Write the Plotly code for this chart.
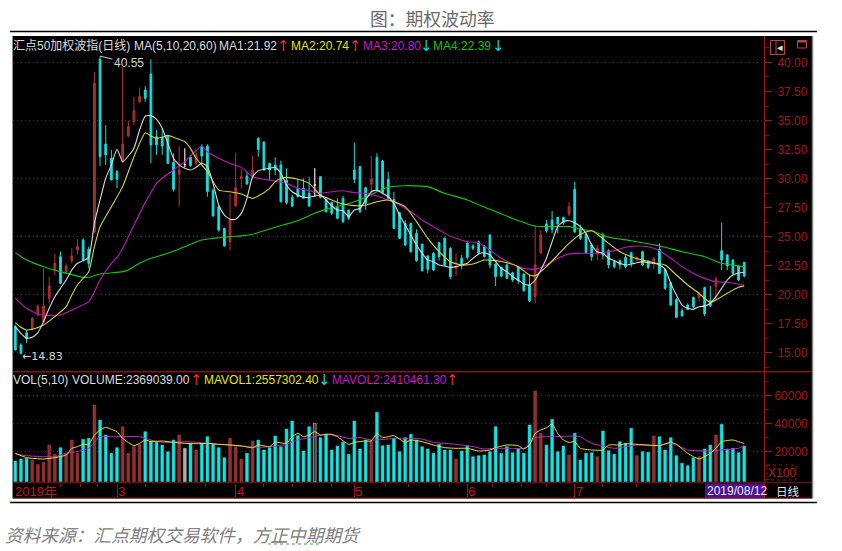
import plotly.graph_objects as go

W, H = 842, 551

# ---- daily candles
opens = [17.23,15.65,16.7,16.99,18.38,17.66,19.67,22.11,23.26,21.97,22.92,23.84,24.7,23.9,25.42,40.27,32.97,31.74,30.59,31.45,
 33.67,34.9,36.62,37.63,39.01,33.61,33.55,33.67,31.37,30.39,31.2,31.83,31.31,32.74,32.8,28.95,27.57,25.7,24.55,27.63,
 29.99,30.21,30.21,33.46,33.15,31.3,31.16,31.16,29.87,28.38,29.15,29.15,28.72,29.44,30.16,28.2,27.92,27.51,28.29,27.27,
 30.73,31.02,29.2,29.5,31.82,31.5,29.93,28.2,27.05,26.13,26.13,25.27,24.35,23.32,23.55,24.47,24.84,23.98,22.26,23.12,
 24.41,24.18,24.55,24.18,25.13,22.63,22.34,22.54,21.88,22.4,21.77,20.82,19.81,23.6,26.08,26.42,26.65,26.65,26.94,29.07,
 25.7,25.2,24.27,23.49,25.13,23.78,22.83,22.92,23.2,23.6,22.97,23.69,22.83,22.63,23.89,22.17,21.02,19.58,18.6,19.09,
 19.75,19.75,20.59,19.47,20.73,23.78,23.4,22.97,22.46,22.77]
highs = [17.4,15.8,16.94,18.05,19.15,22.26,21.54,23.49,23.69,22.69,23.98,24.76,24.84,24.13,39.2,40.55,34.6,32.46,30.73,39.6,
 34.99,37.05,37.83,37.98,40.27,34.18,34.32,33.75,32.17,32.8,32.6,32.03,32.46,32.95,32.95,29.15,27.63,25.75,28.66,32.23,
 30.79,30.59,31.94,33.55,33.18,31.36,31.82,31.54,30.88,28.58,29.93,30.0,30.16,30.88,30.21,28.29,28.0,28.29,28.49,27.3,
 33.09,31.08,29.3,31.94,32.17,31.6,30.59,28.86,27.14,26.42,26.19,25.62,24.36,23.4,23.69,24.55,24.98,24.07,23.55,23.4,
 24.64,24.35,24.64,24.27,25.18,22.68,22.4,22.68,21.97,22.46,21.82,21.68,25.93,25.56,26.42,27.2,26.71,26.71,28.0,29.73,
 26.0,25.2,24.41,24.27,25.33,23.89,22.97,23.03,23.4,23.69,23.32,23.78,22.97,23.2,24.41,22.25,21.1,19.67,18.81,19.24,
 19.81,20.24,20.68,20.73,21.54,26.19,23.49,23.03,22.54,22.83]
lows = [15.2,14.83,15.8,16.95,18.09,17.5,19.24,21.68,20.9,21.77,22.69,23.49,22.83,22.26,25.27,31.08,31.16,29.87,29.15,31.36,
 33.55,34.6,36.54,36.62,31.31,32.03,32.03,31.25,28.87,27.57,30.96,31.02,31.16,31.31,28.43,26.71,25.42,24.15,23.78,27.6,
 29.15,29.44,30.16,31.88,30.67,29.87,30.3,27.92,27.8,27.52,28.43,28.29,27.57,28.43,28.29,27.05,26.85,26.48,26.14,26.42,
 29.6,27.05,27.3,28.43,28.95,28.66,28.29,25.62,24.76,24.18,23.6,22.83,21.97,21.82,22.05,22.92,22.46,21.31,21.6,22.17,
 23.03,23.84,23.49,23.2,22.26,20.73,21.48,21.31,21.1,20.9,20.24,19.35,19.24,23.49,25.33,25.27,25.27,26.0,26.77,25.3,
 24.7,23.55,22.9,22.97,23.03,22.25,22.25,22.17,22.25,22.34,22.9,22.46,22.17,22.17,21.77,20.39,19.0,17.95,18.14,18.66,
 18.81,19.38,18.14,18.95,19.53,22.11,22.11,21.68,21.16,21.48]
closes = [15.22,14.93,16.22,17.95,18.95,19.01,20.73,22.69,20.96,22.46,23.32,24.13,22.98,22.69,38.2,31.88,32.03,29.87,29.93,32.95,
 34.47,35.85,37.05,36.91,32.89,32.89,32.8,31.31,29.07,30.73,31.2,31.11,32.03,31.94,28.87,26.77,25.56,24.18,26.42,29.21,
 30.16,29.53,30.73,32.51,30.73,30.73,30.73,28.0,27.92,27.63,28.43,28.29,27.63,29.44,28.38,27.14,27.0,26.57,26.28,26.57,
 29.93,27.14,27.86,29.93,29.0,28.78,28.29,25.7,24.84,24.27,23.69,22.92,22.05,22.17,22.11,23.26,22.54,21.54,22.4,22.63,
 23.2,23.98,23.6,23.26,22.54,21.54,21.59,21.39,21.25,21.19,20.33,19.47,22.54,25.13,25.5,25.62,26.08,26.19,27.57,25.4,
 24.84,23.6,23.26,23.98,23.4,22.54,22.4,22.54,22.4,22.69,23.17,22.54,22.34,23.12,21.82,20.53,19.09,18.03,18.14,18.72,
 18.95,20.1,18.32,19.0,21.31,22.97,22.46,21.82,21.25,21.6]
doji_days = [30, 53]

# ---- price moving averages (index, value)
ma1_x = list(range(130))
ma1_y = [17.23,16.65,16.22,16.31,16.71,17.66,18.81,19.81,20.53,21.25,22.11,22.69,22.92,23.2,26.14,28.15,30.02,31.17,32.52,31.45,
 31.94,32.6,34.18,35.39,35.42,35.1,34.33,33.03,31.74,31.17,30.88,30.73,30.96,31.31,31.02,29.58,27.71,26.85,26.48,26.48,
 26.99,28.29,30.16,30.68,30.79,30.88,30.96,30.45,29.44,28.86,28.58,28.38,28.38,28.49,28.58,28.15,27.63,27.29,27.23,26.71,
 27.29,27.43,28.15,28.86,29.0,28.72,28.43,27.86,26.85,25.99,25.13,24.27,23.55,22.97,22.83,22.54,22.46,22.34,22.4,22.54,
 22.69,23.12,23.49,23.6,23.4,22.83,22.26,21.97,21.54,21.25,20.9,20.82,21.25,22.11,23.12,24.55,25.85,26.28,26.36,26.19,
 25.85,25.27,24.27,23.69,23.55,23.12,22.92,22.69,22.54,22.63,22.74,22.83,22.74,22.69,22.54,22.17,20.96,19.96,19.09,18.81,
 18.72,18.95,19.0,19.24,19.81,20.53,21.25,21.68,21.85,21.92]
ma2_x = [0,1,2,3,5,7,9,10,11,12,13,14,15,17,19,21,23,24,25,26,27,28,30,31,32,34,36,38,40,42,43,45,46,47,48,50,52,54,56,58,60,62,64,66,69,71,73,75,77,79,81,83,85,87,89,91,92,94,96,98,100,102,103,105,107,109,111,113,115,117,119,121,123,124,126,128,129]
ma2_y = [17.57,17.17,16.94,17.0,17.37,18.09,18.95,19.96,20.82,21.39,21.97,24.13,25.85,27.57,29.3,31.88,33.95,33.67,33.46,33.55,33.72,33.55,33.18,32.6,31.74,30.59,29.0,28.86,28.66,28.29,28.49,29.15,29.73,30.0,30.1,29.93,29.58,28.58,28.15,27.8,27.66,27.71,28.0,28.15,27.57,26.28,24.84,23.69,22.83,22.54,22.63,22.97,22.92,22.74,22.4,21.68,21.62,22.4,23.4,24.41,25.2,25.5,25.2,24.41,23.69,23.26,22.97,22.74,22.54,21.68,20.82,20.1,19.3,19.53,20.1,20.62,20.74]
ma3_x = [0,2,4,6,8,10,13,14,15,17,18,19,20,21,23,25,26,28,30,33,34,36,38,40,42,44,46,48,50,52,54,56,58,60,62,64,66,68,70,72,74,76,78,80,82,84,86,88,90,92,94,96,98,100,102,104,106,108,110,112,114,116,118,120,122,124,126,129]
ma3_y = [19.67,18.81,18.29,18.2,18.23,18.66,19.38,20.24,21.25,22.69,23.2,23.98,24.99,25.99,27.92,29.58,30.02,30.73,31.45,32.8,32.31,31.74,31.3,30.96,30.16,29.93,29.78,29.58,29.15,28.95,28.72,28.86,28.95,28.78,28.72,28.49,28.12,27.72,27.14,26.42,25.85,25.27,24.84,24.55,24.47,23.84,23.12,22.63,22.25,22.17,22.54,23.12,23.5,23.55,23.55,23.6,23.78,24.07,24.18,24.12,23.78,23.12,22.4,21.82,21.39,21.1,21.05,20.8]
ma4_x = [0,2,5,8,12,13,15,19,20,22,24,27,30,33,35,38,40,42,46,50,53,55,58,60,62,64,66,69,73,76,80,84,88,92,94,98,101,102,105,109,114,118,122,125,129]
ma4_y = [23.61,22.97,22.4,21.97,21.48,21.48,21.77,21.97,22.11,22.69,23.12,23.55,24.13,24.7,24.84,24.99,25.05,25.2,25.8,26.36,27.0,27.34,27.71,28.0,28.38,28.86,29.24,29.38,29.3,28.72,28.15,27.34,26.56,25.9,25.85,25.85,25.56,25.5,24.93,24.64,24.18,23.69,23.26,22.69,22.39]

# ---- volume (x100)
volumes = [13070,14500,14975,13785,10690,12120,24500,17830,22600,18545,28070,18545,28550,29260,53070,42350,31640,18545,22600,37600,
 18545,23310,24975,34020,27360,26400,24500,19740,28070,31640,22120,25690,20930,25690,30450,24975,22600,15450,29260,23310,
 14500,18545,27360,28070,20930,22600,30930,23310,35930,41640,31170,20210,37600,39975,29740,32120,20930,23785,26400,17830,
 41640,21640,28070,27360,47830,24025,24500,29260,19740,29740,32120,28070,23310,21640,18545,24975,20930,20930,14500,20210,
 24025,16165,16880,17360,19740,37600,18545,23310,19025,21640,18545,38785,63070,32830,24500,42830,19740,23785,17360,32830,
 13785,18545,19025,16165,34500,20450,17830,26880,25690,36405,16880,19740,19260,30930,30450,20930,29740,16880,11400,9740,
 15450,16165,21640,24500,31640,39260,21640,22120,19025,23690]
mavol1_x = [0,2,5,7,9,10,11,12,13,14,15,16,17,18,19,21,22,23,24,26,28,30,32,34,36,38,40,42,43,45,46,48,49,50,51,52,53,54,55,56,57,59,60,62,63,64,65,66,67,69,70,72,74,76,78,80,82,84,85,87,89,90,91,92,93,94,95,96,97,98,99,100,102,104,105,107,108,110,112,114,116,117,119,120,121,122,123,124,125,127,128,129]
mavol1_y = [18545,15450,14500,15450,17360,22120,23310,24975,24975,31640,35215,37120,35690,34020,29260,24025,25690,28070,26880,27360,26400,25690,25450,25690,24975,24500,23785,22600,24500,23310,26400,25690,30450,32830,30450,31640,34020,31640,32120,32120,30450,24975,26400,27360,27360,32830,29740,30450,31170,26400,28070,26880,24500,22600,22120,22120,20210,20930,22600,24500,24025,21640,24500,32830,35215,36880,39260,32830,28070,26400,26880,22120,20930,20930,24500,24500,25450,24975,24500,24025,26400,24975,18545,16165,14500,16165,18545,22120,26880,28070,26880,25573]
mavol2_x = [0,2,5,7,9,11,13,15,17,19,22,24,26,28,30,32,34,36,38,40,43,45,48,50,52,55,57,59,61,63,66,67,69,72,74,78,81,83,85,88,90,92,94,96,99,100,102,104,106,110,113,116,117,119,123,125,128,129]
mavol2_y = [18070,16880,16165,16165,18545,19740,22120,30450,30450,30450,30450,28070,26400,26400,26880,26400,25690,24975,24500,23785,22830,23310,24975,28070,29740,32120,31170,29260,29740,28070,28785,29260,29260,28785,26400,24975,23310,21640,22120,22120,22120,29740,30450,30450,30930,30450,25690,23785,22120,24500,24025,25690,24500,20930,20210,20930,22120,24105]

# ---- axis labels
price_ticks = [15, 17.5, 20, 22.5, 25, 27.5, 30, 32.5, 35, 37.5, 40]
price_grid = [15, 20, 25, 30, 35, 40]
vol_ticks = [20000, 40000, 60000]
month_pos = [18, 39, 60, 80, 99]
month_text = ["3", "4", "5", "6", "7"]
minor_pos = [8, 11.5, 14.5, 23, 33.7, 44, 49, 56, 65.5, 69.5, 75, 84.5, 89.5, 94, 104, 110, 116]

RED = "#a81414"
DARK = "#7a0c0c"
GRID = "#8a1010"
FONT = "Liberation Sans, Noto Sans CJK SC, sans-serif"
def px(v): return v / W
def py(v): return 1 - v / H

VOL_FLOOR = 1570
up = [c > o for o, c in zip(opens, closes)]
bar_fill = ["#8a3030" if u else "#10e4e4" for u in up]
bar_line = ["#b83c3c" if u else "#10e4e4" for u in up]
bar_fill[30] = "#a8a8a8"; bar_line[30] = "#d0d0d0"
bar_fill[53] = "#3a3a3a"; bar_line[53] = "#f0f0f0"

fig = go.Figure()
fig.add_trace(go.Candlestick(
    x=list(range(len(opens))), open=opens, high=highs, low=lows, close=closes,
    increasing=dict(line=dict(color="#b83434", width=1), fillcolor="#8a2a2a"),
    decreasing=dict(line=dict(color="#10dcdc", width=1), fillcolor="#10e4e4"),
    whiskerwidth=0, xaxis="x", yaxis="y", showlegend=False))
fig.add_trace(go.Candlestick(
    x=doji_days, open=[opens[i] for i in doji_days], high=[highs[i] for i in doji_days],
    low=[lows[i] for i in doji_days], close=[closes[i] for i in doji_days],
    increasing=dict(line=dict(color="#f0f0f0", width=1), fillcolor="#f0f0f0"),
    decreasing=dict(line=dict(color="#f0f0f0", width=1), fillcolor="#f0f0f0"),
    whiskerwidth=0, xaxis="x", yaxis="y", showlegend=False))

for xs, ys, col in [(ma4_x, ma4_y, "#10c810"), (ma3_x, ma3_y, "#c014c0"),
                    (ma2_x, ma2_y, "#d8d828"), (ma1_x, ma1_y, "#d8d8d8")]:
    fig.add_trace(go.Scatter(x=xs, y=ys, mode="lines", xaxis="x", yaxis="y3", showlegend=False,
                             line=dict(color=col, width=1.1, shape="spline", smoothing=0.5)))

fig.add_trace(go.Bar(x=list(range(len(volumes))), y=[v + VOL_FLOOR for v in volumes], base=-VOL_FLOOR,
                     xaxis="x", yaxis="y2", showlegend=False,
                     marker=dict(color=bar_fill, line=dict(color=bar_line, width=0.5))))
for xs, ys, col in [(mavol2_x, mavol2_y, "#d020d0"), (mavol1_x, mavol1_y, "#e4e420")]:
    fig.add_trace(go.Scatter(x=xs, y=ys, mode="lines", xaxis="x", yaxis="y2", showlegend=False,
                             line=dict(color=col, width=1, shape="spline", smoothing=0.5)))

anns = []
def text(x, y, s, color, size=12, anchor="left", **kw):
    anns.append(dict(xref="paper", yref="paper", x=px(x), y=py(y), text=s, showarrow=False,
                     xanchor=anchor, yanchor="middle", xshift=-2 if anchor == "left" else 0,
                     font=dict(family=kw.pop("family", FONT), size=size, color=color), **kw))

text(431.5, 18, "图：期权波动率", "#6a6a6a", 17.8, "center", family="Noto Sans CJK SC")
text(5, 534, "资料来源：汇点期权交易软件，方正中期期货", "#808080", 17.7)
anns[-1]["font"]["style"] = "italic"
anns[-1]["font"]["family"] = "Noto Sans CJK SC"

GREY = "#dcdcdc"; YEL = "#e6e600"; MAG = "#c818c8"; GRN = "#08c808"; CY = "#00dcdc"; ARR = "#e03030"
ARROW = "DejaVu Sans"
text(13, 46, "汇点50加权波指(日线)", GREY)
text(134, 46, "MA(5,10,20,60)", GREY)
text(219, 46, "MA1:21.92", GREY)
text(277, 46, "↑", ARR, 15, family=ARROW)
text(291, 46, "MA2:20.74", YEL)
text(349, 46, "↑", ARR, 15, family=ARROW)
text(363, 46, "MA3:20.80", MAG)
text(420, 46, "↓", CY, 15, family=ARROW)
text(433, 46, "MA4:22.39", GRN)
text(492, 46, "↓", CY, 15, family=ARROW)
text(13, 380, "VOL(5,10)", GREY)
text(72, 380, "VOLUME:2369039.00", GREY)
text(190, 380, "↑", ARR, 15, family=ARROW)
text(204, 380, "MAVOL1:2557302.40", YEL)
text(318, 380, "↓", CY, 15, family=ARROW)
text(332, 380, "MAVOL2:2410461.30", MAG)
text(446, 380, "↑", ARR, 15, family=ARROW)

text(15, 491, "2019年", "#c01818", 13)
for p, t in zip(month_pos, month_text):
    anns.append(dict(xref="x", yref="paper", x=p, y=py(491), text=t, showarrow=False, xanchor="left",
                     yanchor="middle", xshift=-1, font=dict(family=FONT, size=13, color="#c01818")))
anns.append(dict(xref="paper", yref="paper", x=px(705), y=py(491), text="2019/08/12", showarrow=False,
                 xanchor="left", yanchor="middle", font=dict(family=FONT, size=12, color="#f0f0f0")))
text(788, 491, "日线", "#e8e8e8", 11.5, "center")
text(781.5, 472.5, "X100", "#c01818", 12, "center")

anns.append(dict(xref="x", yref="y", x=15, y=highs[15], text="40.55", ax=29, ay=7, showarrow=True,
                 arrowhead=0, arrowwidth=1, arrowcolor="#cccccc", font=dict(family=FONT, size=12, color="#d4d4d4")))
anns.append(dict(xref="x", yref="y", x=1, y=14.62, text="←14.83", showarrow=False, xanchor="left", xshift=-1,
                 font=dict(family="DejaVu Sans, Liberation Sans", size=11, color="#d4d4d4")))

def rect(x0, y0, x1, y1, fill=None, line=None, width=1, layer="above", dash=None):
    d = dict(type="rect", xref="paper", yref="paper", x0=px(x0), x1=px(x1), y0=py(y0), y1=py(y1), layer=layer,
             line=dict(color=line or "rgba(0,0,0,0)", width=width if line else 0))
    if dash: d["line"]["dash"] = dash
    if fill: d["fillcolor"] = fill
    return d
def seg(x0, y0, x1, y1, color, width=1, dash=None):
    d = dict(type="line", xref="paper", yref="paper", x0=px(x0), x1=px(x1), y0=py(y0), y1=py(y1), layer="above",
             line=dict(color=color, width=width))
    if dash: d["line"]["dash"] = dash
    return d

shapes = [
    rect(13, 36, 812, 498.5, fill="#000000", layer="below"),
    rect(705, 483.5, 764, 498, fill="#4a1296", layer="above"),
    seg(12.5, 36, 12.5, 498.5, "#8c8c8c"),
    seg(812.5, 36, 812.5, 498.5, "#808080", 1.5),
    seg(10, 31.5, 817, 31.5, "#000000", 1.5),
    seg(10, 502.5, 817, 502.5, "#000000", 1.5),
    seg(13, 371.7, 812, 371.7, "#8c1212", 1.5),
    seg(13, 482.7, 812, 482.7, "#8c1212", 1),
    seg(13, 498, 812, 498, "#8c1212", 1),
    seg(764.5, 36, 764.5, 498, "#a01414", 1),
    rect(770.5, 40.5, 784.5, 54.5, line="#c04040"),
    seg(776, 40.5, 776, 54.5, "#c04040"),
    rect(797.5, 40.5, 806.5, 48, line="#c04040"),
    seg(797.5, 41.8, 806.5, 41.8, "#c04040", 1.5),
    rect(767, 465, 796, 480, line="#901414", dash="dot"),
    seg(268, 544, 322, 544, "#3aa83a", 1, "dot"),
]
anns.append(dict(xref="paper", yref="paper", x=px(780), y=py(47.5), text="◂", showarrow=False,
                 xanchor="center", yanchor="middle",
                 font=dict(family="DejaVu Sans", size=11, color="#e0e0e0")))

fig.update_layout(
    width=W, height=H, margin=dict(l=0, r=0, t=0, b=0), autosize=False,
    paper_bgcolor="#ffffff", plot_bgcolor="#000000", showlegend=False, bargap=0.5, boxgap=0.55,
    font=dict(family=FONT), shapes=shapes, annotations=anns, hovermode=False,
    xaxis=dict(domain=[px(13), px(764)], range=[-0.407, 132.5], anchor="y2", rangeslider=dict(visible=False),
               showgrid=False, zeroline=False, showline=False, tickmode="array", tickvals=month_pos,
               ticktext=[""] * len(month_pos), ticks="outside", ticklen=15, tickcolor="#a01414", tickwidth=1,
               minor=dict(tickmode="array", tickvals=minor_pos, ticks="outside", ticklen=3, tickcolor="#a01414", tickwidth=1)),
    yaxis=dict(domain=[py(371.5), py(36)], range=[13.362, 42.284], side="right", anchor="x",
               tickmode="array", tickvals=price_ticks, tickformat=".2f", showgrid=False, zeroline=False,
               tickfont=dict(family=FONT, size=12, color=RED), ticks="outside", ticklen=7, tickcolor=RED,
               ticklabelstandoff=3,
               minor=dict(dtick=1.25, tick0=15, ticks="outside", ticklen=4, tickcolor=DARK, showgrid=False)),
    yaxis3=dict(overlaying="y", side="right", anchor="x", range=[13.362, 42.284], tickmode="array",
                tickvals=price_grid, showticklabels=False, ticks="", showgrid=True, gridcolor=GRID,
                griddash="1px,3px", gridwidth=1, zeroline=False),
    yaxis2=dict(domain=[py(482.5), py(372)], range=[-2286, 76640], side="right", anchor="x",
                tickmode="array", tickvals=vol_ticks, showgrid=True, gridcolor=GRID, griddash="1px,3px",
                gridwidth=1, zeroline=False, tickfont=dict(family=FONT, size=12, color=RED), tickformat="d",
                ticks="outside", ticklen=7, tickcolor=RED, ticklabelstandoff=0,
                minor=dict(dtick=10000, tick0=0, ticks="outside", ticklen=4, tickcolor=DARK, showgrid=False)),
)
fig.write_html("out.html", post_script="document.body.style.margin='0';", config={"displayModeBar": False})
